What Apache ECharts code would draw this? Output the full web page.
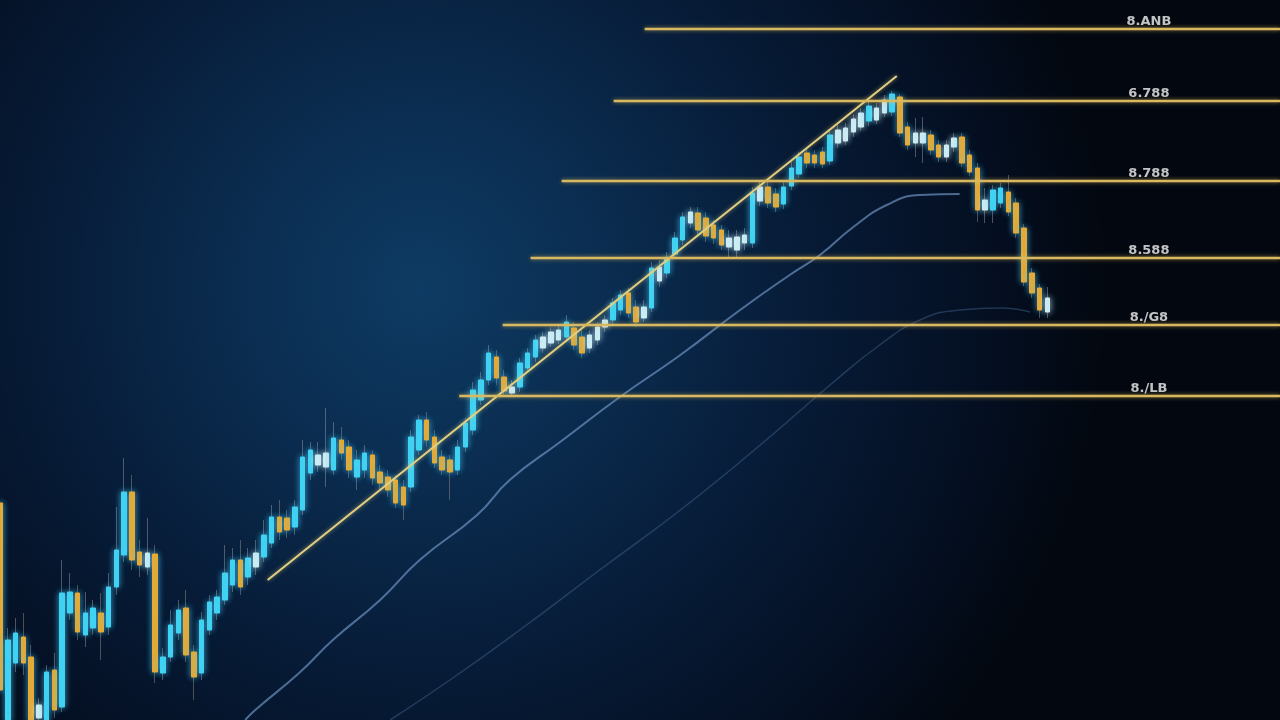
<!DOCTYPE html>
<html>
<head>
<meta charset="utf-8">
<script src="https://cdn.jsdelivr.net/npm/echarts@6/dist/echarts.min.js"></script>
<style>
html,body{margin:0;padding:0;background:#030810;}
#c{width:1280px;height:720px;}
</style>
</head>
<body>
<div id="c"></div>
<script>
// ---- data (price units, time in candle index units) ----
const open  = [217,-2,57,83,63,2,-2,50,13,107,127,85,92,107,93,133,165,228,168,153,166,47,63,87,112,68,47,90,107,120,135,160,143,153,163,177,203,202,193,210,247,255,253,250,280,273,243,250,265,248,243,240,233,233,270,300,283,263,260,250,273,290,320,340,363,343,327,333,352,363,372,377,380,383,392,383,372,380,393,400,410,427,413,402,412,439,447,466,480,497,507,502,495,490,473,470,477,477,519,533,526,516,534,546,567,565,568,559,577,579,588,593,599,600,607,608,623,593,577,577,585,575,563,573,583,565,552,510,510,517,528,517,492,447,432,408];
const close = [30,80,87,57,-2,15,48,10,127,128,88,107,112,88,133,170,228,160,155,167,48,63,95,110,65,43,100,118,123,147,160,133,162,167,185,203,188,190,213,263,270,265,267,282,267,250,260,267,242,237,230,217,215,283,300,280,257,250,248,273,297,330,340,367,342,329,333,357,367,380,383,388,390,398,375,367,385,393,400,417,425,407,398,413,452,453,462,482,503,508,490,484,482,475,482,483,485,527,533,517,513,533,552,563,557,557,556,585,590,592,601,607,614,612,620,626,587,575,587,587,570,563,575,582,557,548,510,520,530,532,508,487,438,427,410,422];
const low   = [20,-10,48,45,-10,-5,-10,2,8,100,80,73,85,60,85,125,158,150,143,145,37,40,58,80,58,20,40,85,100,115,128,125,135,145,158,172,180,182,185,205,240,248,233,245,260,242,230,242,235,230,223,212,200,228,265,273,252,245,220,245,268,285,315,335,335,323,323,328,348,358,367,373,376,378,370,362,367,375,388,395,405,402,393,398,408,433,442,462,475,492,485,478,476,470,463,463,470,472,514,512,508,511,530,542,552,552,552,555,572,575,583,589,594,596,603,604,583,570,563,557,565,558,558,568,553,544,498,497,497,512,504,482,434,422,402,402];
const high  = [225,92,102,107,75,22,55,67,160,147,135,128,120,127,147,213,262,245,180,202,175,72,110,120,130,75,108,125,130,175,172,180,172,180,200,215,220,210,220,280,278,278,312,298,293,280,270,275,270,255,250,245,240,290,305,308,290,270,265,280,302,338,348,375,370,350,340,362,372,385,388,393,395,405,398,390,390,398,405,422,430,432,420,420,458,460,468,488,508,513,513,508,500,495,490,490,492,533,538,538,532,538,558,568,572,570,573,590,595,597,606,612,619,617,625,629,626,598,602,603,590,580,580,587,587,570,557,532,535,537,545,522,496,452,436,433];
const categories = open.map((_, i) => 'T' + (i + 1));

// horizontal levels (top to bottom)
const levelValues = [691, 619, 539, 462, 395, 324];
const levelStart  = [83.1, 79.1, 72.4, 68.4, 64.8, 59.2];
const levelLabels = ['8.ANB', '6.788', '8.788', '8.588', '8./G8', '8./LB'];

// trend line
const trendLine = [[34.5, 140], [115.6, 644]];

// moving-average style curves
const curveA = [[31.6,0],[32.9,10],[38.7,48],[42.9,80],[49.0,120],[54.1,160],[61.5,205],[65.7,240],[72.2,278],[79.9,323],[87.7,365],[95.4,410],[101.8,445],[105.7,465],[110.0,493],[114.3,515],[118.6,525],[123.7,526]];
const curveB = [[50.3,0],[58.0,40],[67.0,90],[77.3,150],[87.7,210],[98.0,275],[107.0,335],[113.4,375],[118.6,400],[123.7,410],[128.9,412],[132.8,408]];

// ---- chart ----
const X_MAX = 165;
const LABEL_X = 148.1;
const UP = '#3fd3f2', DOWN = '#f3a623', PALE = '#cdebf2';

const wickData = open.map((o, i) => [o, close[i], low[i], high[i]]);
const bodyData = open.map((o, i) => {
  const c = close[i];
  const v = [o, c, Math.min(o, c), Math.max(o, c)];
  if (c > o && c - o <= 14) {
    return { value: v, itemStyle: { color: PALE, borderColor: PALE, shadowColor: 'rgba(200,240,250,0.8)' } };
  }
  return v;
});

const levelSeries = levelValues.map((v, i) => ({
  type: 'line', xAxisIndex: 1, yAxisIndex: 0, z: 5,
  data: [[levelStart[i], v], [X_MAX, v]],
  symbol: 'none', silent: true,
  lineStyle: { color: '#d8b962', width: 2.6, shadowBlur: 4, shadowColor: 'rgba(235,195,90,0.6)' }
}));

const chart = echarts.init(document.getElementById('c'), null, { renderer: 'canvas' });
chart.setOption({
  animation: false,
  backgroundColor: {
    type: 'radial', x: 0.33, y: 0.4, r: 0.95,
    colorStops: [
      { offset: 0, color: '#0e3b63' },
      { offset: 0.25, color: '#0b2e52' },
      { offset: 0.55, color: '#071c38' },
      { offset: 0.85, color: '#040e20' },
      { offset: 1, color: '#030810' }
    ]
  },
  grid: { left: 0, right: 0, top: 0, bottom: 0 },
  xAxis: [
    { type: 'category', data: categories, boundaryGap: false, min: 0, max: X_MAX, show: false },
    { type: 'value', min: 0, max: X_MAX, show: false }
  ],
  yAxis: [{ type: 'value', min: 0, max: 720, show: false, splitLine: { show: false } }],
  series: [
    { type: 'line', xAxisIndex: 1, data: curveB, smooth: 0.5, symbol: 'none', z: 1,
      lineStyle: { color: 'rgba(90,125,175,0.35)', width: 1.5 } },
    { type: 'line', xAxisIndex: 1, data: curveA, smooth: 0.5, symbol: 'none', z: 1,
      lineStyle: { color: 'rgba(125,165,215,0.6)', width: 2 } },
    { type: 'candlestick', data: wickData, barWidth: 1, z: 2,
      itemStyle: { color: 'rgba(150,150,160,0.5)', color0: 'rgba(150,140,130,0.5)',
        borderColor: 'rgba(150,150,160,0.5)', borderColor0: 'rgba(150,140,130,0.5)', borderWidth: 1 } },
    { type: 'candlestick', data: bodyData, barWidth: 5, z: 3,
      itemStyle: { color: UP, color0: DOWN, borderColor: UP, borderColor0: DOWN, borderWidth: 1,
        shadowBlur: 6, shadowColor: 'rgba(80,210,255,0.7)' } },
    { type: 'line', xAxisIndex: 1, data: trendLine, symbol: 'none', z: 4,
      lineStyle: { color: '#e3cf82', width: 2, shadowBlur: 4, shadowColor: 'rgba(230,210,120,0.6)' } },
    ...levelSeries,
    { type: 'scatter', xAxisIndex: 1, z: 6, symbolSize: 1,
      itemStyle: { color: 'rgba(0,0,0,0)' },
      data: levelValues.map(v => [LABEL_X, v]),
      label: { show: true, position: 'top', distance: 0,
        formatter: p => levelLabels[p.dataIndex],
        color: '#f2f2f2', fontSize: 13, fontWeight: 'bold', fontFamily: 'DejaVu Sans' } }
  ]
});
</script>
</body>
</html>
